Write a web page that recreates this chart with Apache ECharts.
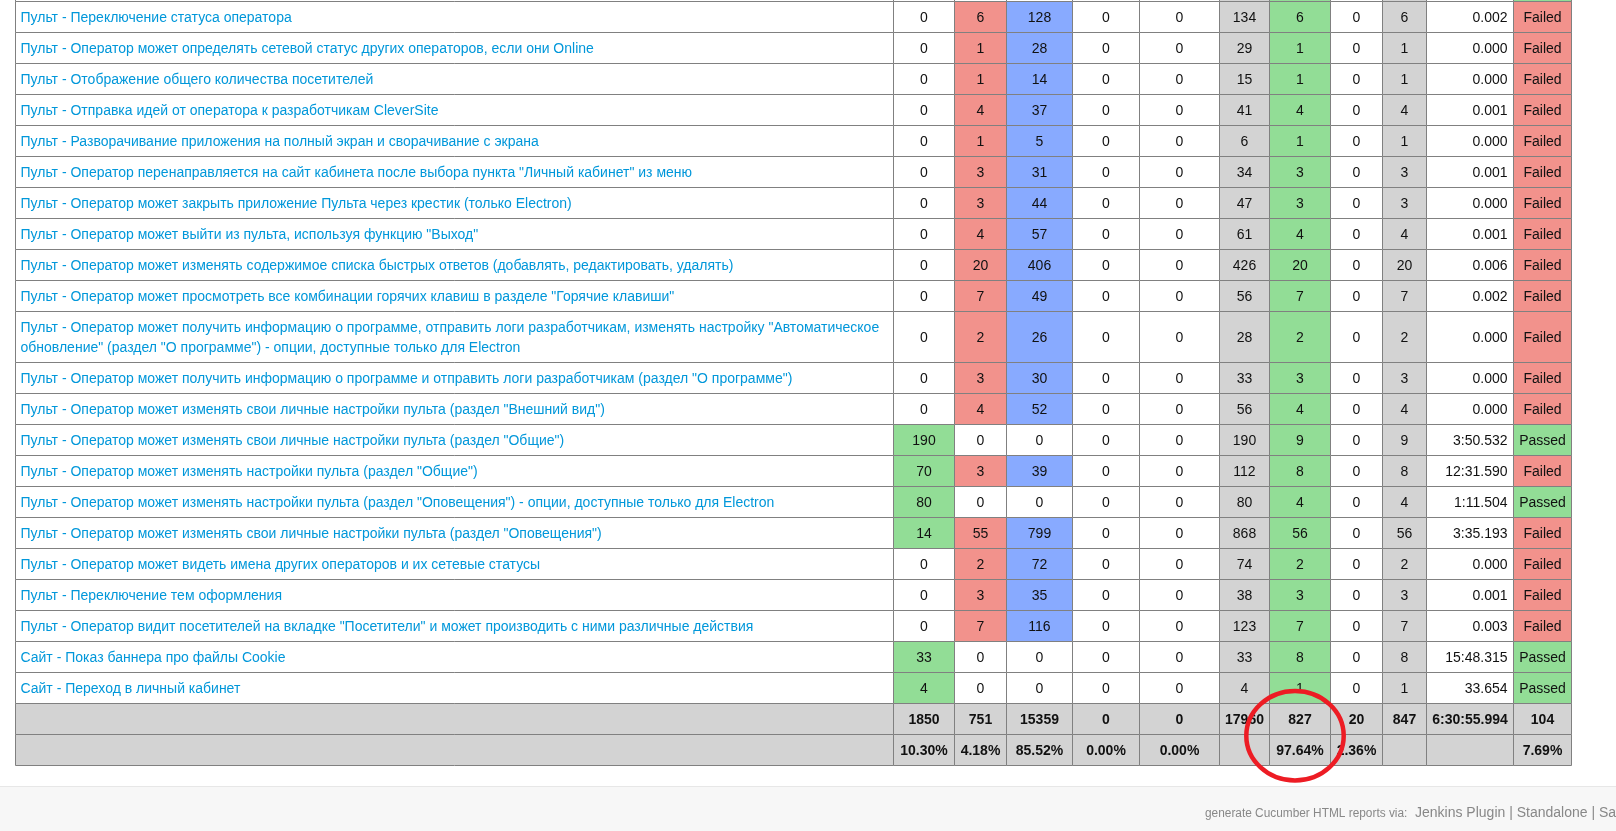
<!DOCTYPE html>
<html>
<head>
<meta charset="utf-8">
<title>Cucumber report</title>
<script src="https://cdn.jsdelivr.net/npm/echarts@6/dist/echarts.min.js"></script>
<style>
  html, body { margin: 0; padding: 0; background: #fff; overflow: hidden; }
  #main { width: 1616px; height: 831px; }
</style>
</head>
<body>
<div id="main"></div>
<script>
var features = [
  'Пульт - Переключение статуса оператора',
  'Пульт - Оператор может определять сетевой статус других операторов, если они Online',
  'Пульт - Отображение общего количества посетителей',
  'Пульт - Отправка идей от оператора к разработчикам CleverSite',
  'Пульт - Разворачивание приложения на полный экран и сворачивание с экрана',
  'Пульт - Оператор перенаправляется на сайт кабинета после выбора пункта "Личный кабинет" из меню',
  'Пульт - Оператор может закрыть приложение Пульта через крестик (только Electron)',
  'Пульт - Оператор может выйти из пульта, используя функцию "Выход"',
  'Пульт - Оператор может изменять содержимое списка быстрых ответов (добавлять, редактировать, удалять)',
  'Пульт - Оператор может просмотреть все комбинации горячих клавиш в разделе "Горячие клавиши"',
  'Пульт - Оператор может получить информацию о программе, отправить логи разработчикам, изменять настройку "Автоматическое\nобновление" (раздел "О программе") - опции, доступные только для Electron',
  'Пульт - Оператор может получить информацию о программе и отправить логи разработчикам (раздел "О программе")',
  'Пульт - Оператор может изменять свои личные настройки пульта (раздел "Внешний вид")',
  'Пульт - Оператор может изменять свои личные настройки пульта (раздел "Общие")',
  'Пульт - Оператор может изменять настройки пульта (раздел "Общие")',
  'Пульт - Оператор может изменять настройки пульта (раздел "Оповещения") - опции, доступные только для Electron',
  'Пульт - Оператор может изменять свои личные настройки пульта (раздел "Оповещения")',
  'Пульт - Оператор может видеть имена других операторов и их сетевые статусы',
  'Пульт - Переключение тем оформления',
  'Пульт - Оператор видит посетителей на вкладке "Посетители" и может производить с ними различные действия',
  'Сайт - Показ баннера про файлы Cookie',
  'Сайт - Переход в личный кабинет'
]
var stepsPassed  = [0, 0, 0, 0, 0, 0, 0, 0, 0, 0, 0, 0, 0, 190, 70, 80, 14, 0, 0, 0, 33, 4]
var stepsFailed  = [6, 1, 1, 4, 1, 3, 3, 4, 20, 7, 2, 3, 4, 0, 3, 0, 55, 2, 3, 7, 0, 0]
var stepsSkipped = [128, 28, 14, 37, 5, 31, 44, 57, 406, 49, 26, 30, 52, 0, 39, 0, 799, 72, 35, 116, 0, 0]
var stepsPending = [0, 0, 0, 0, 0, 0, 0, 0, 0, 0, 0, 0, 0, 0, 0, 0, 0, 0, 0, 0, 0, 0]
var stepsUndefined = [0, 0, 0, 0, 0, 0, 0, 0, 0, 0, 0, 0, 0, 0, 0, 0, 0, 0, 0, 0, 0, 0]
var stepsTotal   = [134, 29, 15, 41, 6, 34, 47, 61, 426, 56, 28, 33, 56, 190, 112, 80, 868, 74, 38, 123, 33, 4]
var scenPassed   = [6, 1, 1, 4, 1, 3, 3, 4, 20, 7, 2, 3, 4, 9, 8, 4, 56, 2, 3, 7, 8, 1]
var scenFailed   = [0, 0, 0, 0, 0, 0, 0, 0, 0, 0, 0, 0, 0, 0, 0, 0, 0, 0, 0, 0, 0, 0]
var scenTotal    = [6, 1, 1, 4, 1, 3, 3, 4, 20, 7, 2, 3, 4, 9, 8, 4, 56, 2, 3, 7, 8, 1]
var durations    = ['0.002', '0.000', '0.000', '0.001', '0.000', '0.001', '0.000', '0.001', '0.006', '0.002', '0.000', '0.000', '0.000',
  '3:50.532', '12:31.590', '1:11.504', '3:35.193', '0.000', '0.001', '0.003', '15:48.315', '33.654']
var statuses     = ['Failed', 'Failed', 'Failed', 'Failed', 'Failed', 'Failed', 'Failed', 'Failed', 'Failed', 'Failed', 'Failed', 'Failed', 'Failed',
  'Passed', 'Failed', 'Passed', 'Failed', 'Failed', 'Failed', 'Failed', 'Passed', 'Passed']
var totalsRow = ['', '1850', '751', '15359', '0', '0', '17960', '827', '20', '847', '6:30:55.994', '104']
var percentRow = ['', '10.30%', '4.18%', '85.52%', '0.00%', '0.00%', '', '97.64%', '2.36%', '', '', '7.69%']

// table layout, in page pixels
var colEdges = [15.5, 893.5, 954.5, 1006.5, 1072.5, 1139.5, 1219.5, 1269.5, 1330.5, 1382.5, 1426.5, 1513.5, 1571.5]
var ROW_H = 31
var TALL_H = 51
var TABLE_TOP = 1.5
var TEXT_DY = 1

var GREEN = '#92dd96', RED = '#f2928c', BLUE = '#88aaff', GREY = '#d3d3d3', WHITE = '#ffffff'
var BORDER = '#808080'

var rowEdges = [TABLE_TOP - ROW_H]
var cells = []

function addCell(col, row, text, fill, kind) {
  cells.push({ value: [col, row], text: text, fill: fill, kind: kind })
}

// row cut off by the top of the screenshot, only its bottom edge shows
rowEdges.push(TABLE_TOP)
var cutFills = [WHITE, WHITE, WHITE, WHITE, WHITE, WHITE, GREY, GREEN, WHITE, GREY, WHITE, GREEN]
cutFills.forEach(function (f, c) { addCell(c, 0, '', f, 'num') })

features.forEach(function (name, i) {
  var row = i + 1
  rowEdges.push(rowEdges[row] + (name.indexOf('\n') >= 0 ? TALL_H : ROW_H))
  addCell(0, row, name, WHITE, 'link')
  addCell(1, row, String(stepsPassed[i]), stepsPassed[i] > 0 ? GREEN : WHITE, 'num')
  addCell(2, row, String(stepsFailed[i]), stepsFailed[i] > 0 ? RED : WHITE, 'num')
  addCell(3, row, String(stepsSkipped[i]), stepsSkipped[i] > 0 ? BLUE : WHITE, 'num')
  addCell(4, row, String(stepsPending[i]), WHITE, 'num')
  addCell(5, row, String(stepsUndefined[i]), WHITE, 'num')
  addCell(6, row, String(stepsTotal[i]), GREY, 'num')
  addCell(7, row, String(scenPassed[i]), GREEN, 'num')
  addCell(8, row, String(scenFailed[i]), WHITE, 'num')
  addCell(9, row, String(scenTotal[i]), GREY, 'num')
  addCell(10, row, durations[i], WHITE, 'dur')
  addCell(11, row, statuses[i], statuses[i] === 'Passed' ? GREEN : RED, 'num')
})

;[totalsRow, percentRow].forEach(function (vals) {
  var row = rowEdges.length - 1
  rowEdges.push(rowEdges[row] + ROW_H)
  vals.forEach(function (t, c) { addCell(c, row, t, GREY, 'bold') })
})

function renderCell(params, api) {
  var col = api.value(0)
  var row = api.value(1)
  var cell = cells[params.dataIndex]
  var tl = api.coord([colEdges[col], rowEdges[row]])
  var br = api.coord([colEdges[col + 1], rowEdges[row + 1]])
  var kind = cell.kind
  var tx = (tl[0] + br[0]) / 2
  var align = 'center'
  if (kind === 'link') { tx = tl[0] + 5; align = 'left' }
  if (kind === 'dur') { tx = br[0] - 6; align = 'right' }
  return {
    type: 'group',
    children: [
      {
        type: 'rect',
        shape: { x: tl[0], y: tl[1], width: br[0] - tl[0], height: br[1] - tl[1] },
        style: { fill: cell.fill, stroke: BORDER, lineWidth: 1 }
      },
      {
        type: 'text',
        z2: 2,
        style: {
          x: tx,
          y: (tl[1] + br[1]) / 2 + TEXT_DY,
          text: cell.text,
          align: align,
          verticalAlign: 'middle',
          lineHeight: 20,
          fill: kind === 'link' ? '#0097da' : '#111111',
          font: (kind === 'bold' ? 'bold ' : '') + '14px "Liberation Sans", Arial, sans-serif'
        }
      }
    ]
  }
}

var myChart = echarts.init(document.getElementById('main'))
myChart.setOption({
  animation: false,
  grid: { left: 0, right: 0, top: 0, bottom: 0 },
  xAxis: { type: 'value', min: 0, max: 1616, show: false },
  yAxis: { type: 'value', min: 0, max: 831, inverse: true, show: false },
  series: [
    {
      type: 'custom',
      coordinateSystem: 'cartesian2d',
      clip: true,
      silent: true,
      data: cells,
      encode: { x: 0, y: 1 },
      renderItem: renderCell
    }
  ],
  graphic: [
    {
      type: 'rect', z: 10, silent: true,
      shape: { x: 0, y: 786, width: 1616, height: 45 },
      style: { fill: '#f7f7f7' }
    },
    {
      type: 'line', z: 11, silent: true,
      shape: { x1: 0, y1: 786.5, x2: 1616, y2: 786.5 },
      style: { stroke: '#e7e7e7', lineWidth: 1 }
    },
    {
      type: 'text', z: 12, silent: true, x: 1205, y: 813.5,
      style: { text: 'generate Cucumber HTML reports via:', fill: '#888888', font: '11.87px "Liberation Sans", Arial, sans-serif', verticalAlign: 'middle' }
    },
    {
      type: 'text', z: 12, silent: true, x: 1415, y: 813,
      style: { text: 'Jenkins Plugin | Standalone | Sa', fill: '#888888', font: '14px "Liberation Sans", Arial, sans-serif', verticalAlign: 'middle' }
    },
    {
      // hand drawn red circle over the totals
      type: 'ellipse', z: 20, silent: true,
      shape: { cx: 1295, cy: 735.7, rx: 48.7, ry: 44.7 },
      style: { fill: 'none', stroke: '#ed1c24', lineWidth: 4.5 }
    }
  ]
})
</script>
</body>
</html>
